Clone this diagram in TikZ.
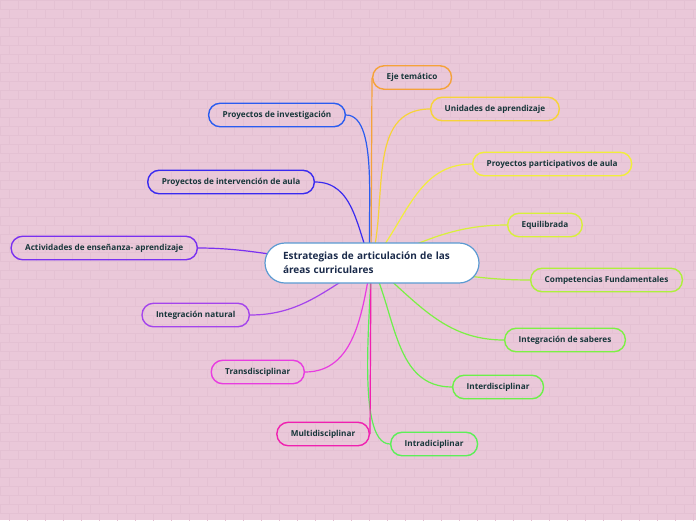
\documentclass[tikz,border=0pt]{standalone}
\usepackage{fontspec}
\setmainfont{Open Sans}
\definecolor{paper}{HTML}{EAC8D9}
\definecolor{mortar}{HTML}{E4C1D3}
\definecolor{ink}{HTML}{17363A}
\definecolor{rootink}{HTML}{1B2B4B}
\definecolor{rootline}{HTML}{5A9AD2}
\definecolor{cEje}{HTML}{F5A23A}
\definecolor{cUnid}{HTML}{F7D338}
\definecolor{cPart}{HTML}{F2EE3A}
\definecolor{cEqui}{HTML}{D8F03A}
\definecolor{cComp}{HTML}{AEF03C}
\definecolor{cSab}{HTML}{7CF044}
\definecolor{cInter}{HTML}{6CF04A}
\definecolor{cIntra}{HTML}{5CEF58}
\definecolor{cMulti}{HTML}{F020B0}
\definecolor{cTrans}{HTML}{E83CE0}
\definecolor{cNat}{HTML}{A444EC}
\definecolor{cAct}{HTML}{7A30F0}
\definecolor{cInterv}{HTML}{3A2AF0}
\definecolor{cInvest}{HTML}{2A5CF0}

\begin{document}
\begin{tikzpicture}[x=1pt, y=-1pt,
  topic/.style={rounded corners=11.5pt, line width=1.4pt, minimum height=23.5pt,
    inner xsep=14pt, text=ink, font=\bfseries\fontsize{8.2}{10}\selectfont},
  branch/.style={line width=1.2pt}]
\useasboundingbox (0,0) rectangle (696,520);
\fill[paper] (0,0) rectangle (696,520);
% bricks
\foreach \r in {0,...,57} {
  \pgfmathsetmacro{\y}{\r*9}
  \pgfmathsetmacro{\off}{mod(\r,2)*9}
  \draw[mortar, line width=0.5pt] (0,\y) -- (696,\y)
    \foreach \k in {0,...,39} {(\off+\k*18,\y) -- (\off+\k*18,\y+9)};
}
% topics, right side
\node[topic, draw=cEje, anchor=west] (eje) at (372,77.5) {Eje temático};
\node[topic, draw=cUnid, anchor=west] (unid) at (430,109) {Unidades de aprendizaje};
\node[topic, draw=cPart, anchor=west] (part) at (472,164) {Proyectos participativos de aula};
\node[topic, draw=cEqui, anchor=west] (equi) at (507,225) {Equilibrada};
\node[topic, draw=cComp, anchor=west] (comp) at (530,280) {Competencias Fundamentales};
\node[topic, draw=cSab, anchor=west] (sab) at (504,340) {Integración de saberes};
\node[topic, draw=cInter, anchor=west] (inter) at (452,387) {Interdisciplinar};
\node[topic, draw=cIntra, anchor=west] (intra) at (390,444) {Intradiciplinar};
% topics, left side
\node[topic, draw=cMulti, anchor=east] (multi) at (370,434) {Multidisciplinar};
\node[topic, draw=cTrans, anchor=east] (trans) at (305,372) {Transdisciplinar};
\node[topic, draw=cNat, anchor=east] (nat) at (250,315) {Integración natural};
\node[topic, draw=cAct, anchor=east] (act) at (198,248) {Actividades de enseñanza- aprendizaje};
\node[topic, draw=cInterv, anchor=east] (interv) at (315,182) {Proyectos de intervención de aula};
\node[topic, draw=cInvest, anchor=east] (invest) at (346,115) {Proyectos de investigación};
\coordinate (hub) at (371,263);
\path [branch, draw=cEje] (hub) edge (eje.west);
\path [branch, draw=cUnid] (hub) edge[out=74, in=180] (unid.west);
\path [branch, draw=cPart] (hub) edge[out=50, in=180] (part.west);
\path [branch, draw=cEqui] (hub) edge[out=22, in=180] (equi.west);
\path [branch, draw=cComp] (hub) edge[out=-5, in=180] (comp.west);
\path [branch, draw=cSab] (hub) edge[out=-40, in=180] (sab.west);
\path [branch, draw=cInter] (hub) edge[out=-64, in=180] (inter.west);
\path [branch, draw=cIntra] (hub) edge[out=-88, in=180, looseness=0.5] (intra.west);
\path [branch, draw=cMulti] (hub) edge (multi.east);
\path [branch, draw=cTrans] (hub) edge[out=-100, in=0] (trans.east);
\path [branch, draw=cNat] (hub) edge[out=-150, in=0] (nat.east);
\path [branch, draw=cAct] (hub) edge[out=182, in=0] (act.east);
\path [branch, draw=cInterv] (hub) edge[out=112, in=0] (interv.east);
\path [branch, draw=cInvest] (hub) edge[out=100, in=0, looseness=0.6] (invest.east);
% root
\node[draw=rootline, fill=white, line width=1.2pt, rounded corners=20pt,
  minimum height=40pt, text width=178pt, inner xsep=18pt, align=left,
  text=rootink, font=\bfseries\fontsize{10}{14}\selectfont]
  (root) at (372,263) {Estrategias de articulación de las\\áreas curriculares};
\end{tikzpicture}
\end{document}
